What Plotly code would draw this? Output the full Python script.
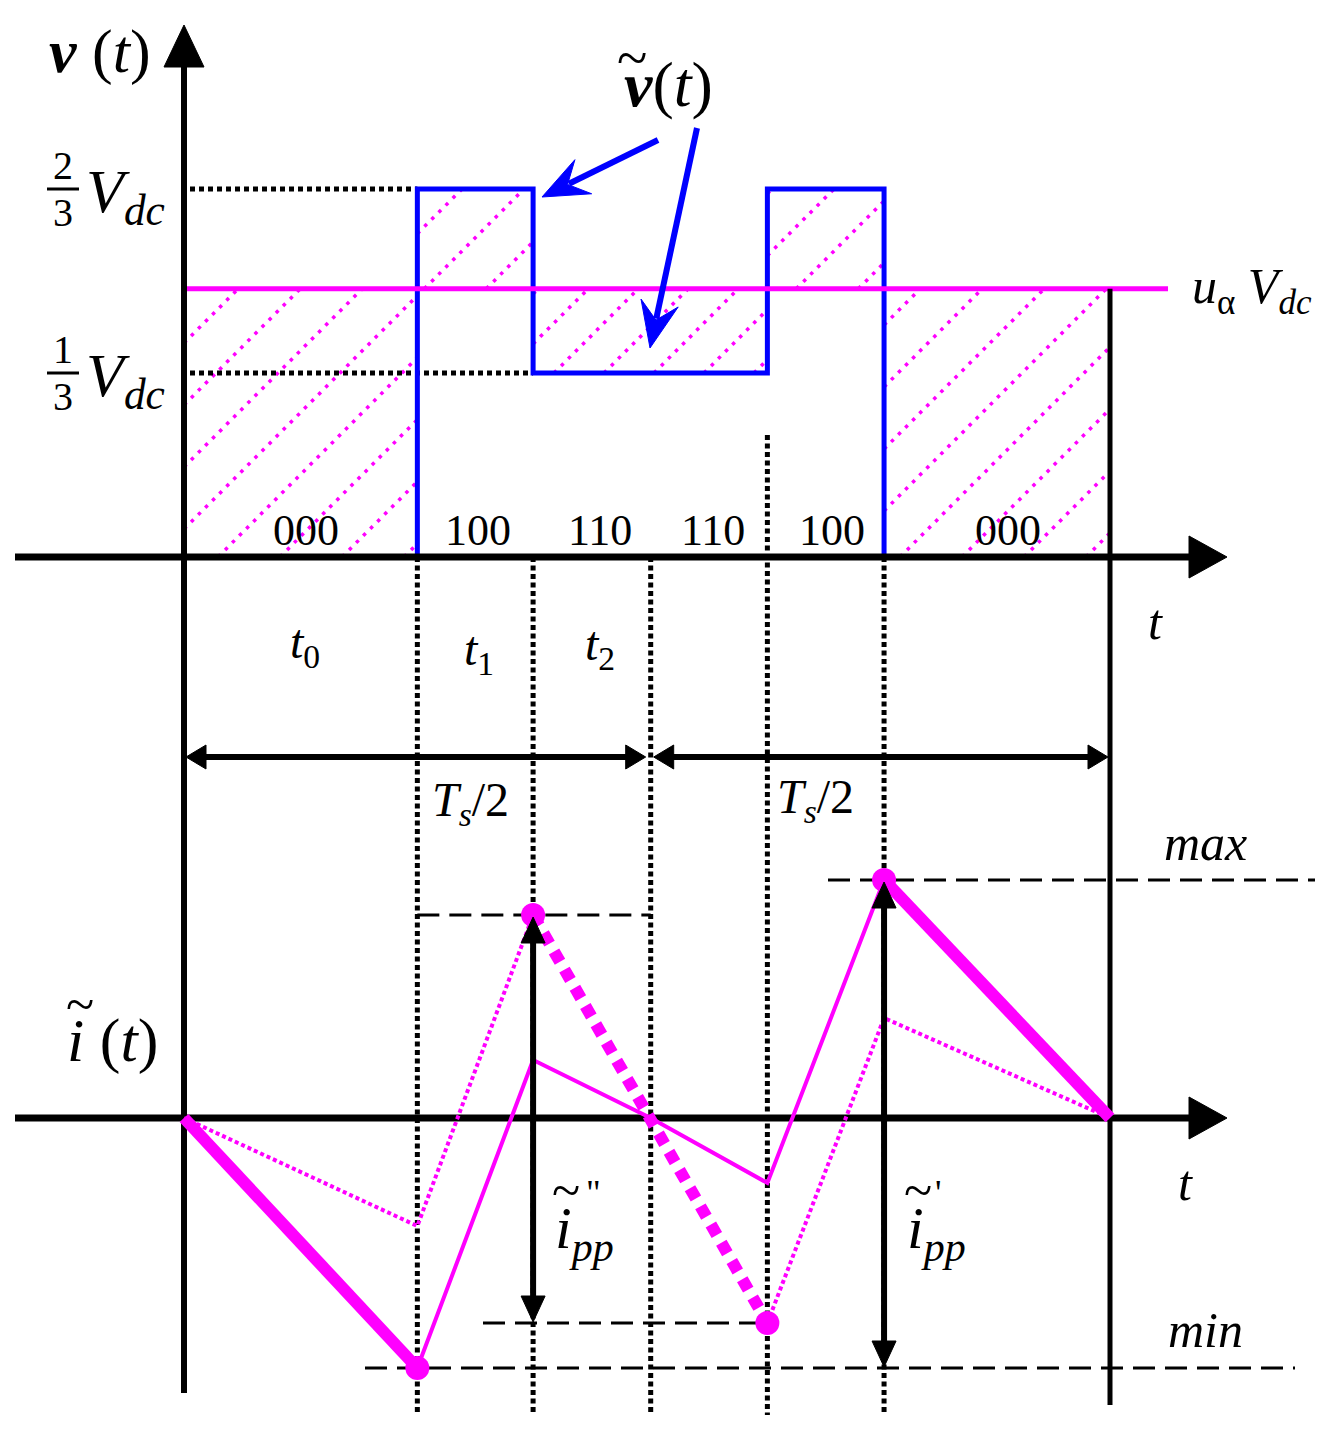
import math
import plotly.graph_objects as go

# ---------------- data ----------------
t_switch = [0.0, 0.252, 0.377, 0.504, 0.630, 0.756, 1.0]   # switching instants, units of Ts
states = ["000", "100", "110", "110", "100", "000"]         # active vector in each interval
v_level = {"000": 0.0, "100": 2 / 3, "110": 1 / 3}           # phase voltage, units of Vdc
u_alpha = 0.486                                              # reference u_alpha (Vdc)
interval_subs = ["0", "1", "2"]

# current ripple, arbitrary units
i_thin_t = [0.252, 0.377, 0.504, 0.630, 0.756]
i_thin_v = [-2.50, 0.58, 0.0, -0.65, 2.38]
i_thick_t = [0.0, 0.252, None, 0.756, 1.0]
i_thick_v = [0.0, -2.50, None, 2.38, 0.0]
i_dash_t = [0.377, 0.504, 0.630]
i_dash_v = [2.03, 0.0, -2.05]
i_dot_t = [0.0, 0.252, 0.377, None, 0.630, 0.756, 1.0]
i_dot_v = [0.0, -1.08, 2.03, None, -2.05, 1.00, 0.0]
peak_t = [0.252, 0.377, 0.630, 0.756]
peak_v = [-2.50, 2.03, -2.05, 2.38]
i_max, i_min = 2.38, -2.50          # global extremes
i_max2, i_min2 = 2.03, -2.05        # extremes of the other sequence

# ---------------- geometry (axis mapping) ----------------
W, H = 1330, 1434
X0, XS = 184.0, 926.0      # pixel of t=0, pixels per Ts
V0, VS = 557.0, 552.0      # pixel of v=0, pixels per Vdc
I0, IS = 1118.0, 100.0     # pixel of i=0, pixels per unit

def t_of(px): return (px - X0) / XS
def v_of(py): return (V0 - py) / VS
def i_of(py): return (I0 - py) / IS
def px_t(t): return X0 + XS * t
def py_v(v): return V0 - VS * v
def py_i(i): return I0 - IS * i

def P(px, py):  # paper coordinates from pixels (for text placement)
    return px / W, 1 - py / H

MAG = "#FF00FF"
BLUE = "#0000FF"
BLK = "#000000"

fig = go.Figure()

def line(ts, ys, axis="y", color=BLK, width=3, dash="solid"):
    fig.add_trace(go.Scatter(x=ts, y=ys, mode="lines", yaxis=axis, hoverinfo="skip",
                             line=dict(color=color, width=width, dash=dash), showlegend=False))

def poly(pts_px, axis="y", color=BLK):
    conv = v_of if axis == "y" else i_of
    xs = [t_of(p[0]) for p in pts_px] + [t_of(pts_px[0][0])]
    ys = [conv(p[1]) for p in pts_px] + [conv(pts_px[0][1])]
    fig.add_trace(go.Scatter(x=xs, y=ys, mode="lines", fill="toself", fillcolor=color, yaxis=axis,
                             hoverinfo="skip", line=dict(color=color, width=1), showlegend=False))

def head(tip_px, d, L, Wd, axis="y", color=BLK, notch=None):
    n = math.hypot(*d); ux, uy = d[0] / n, d[1] / n
    nx, ny = -uy, ux
    tx, ty = tip_px
    bx, by = tx - L * ux, ty - L * uy
    pts = [(tx, ty), (bx + Wd * nx, by + Wd * ny)]
    if notch is not None:
        pts.append((tx - notch * L * ux, ty - notch * L * uy))
    pts.append((bx - Wd * nx, by - Wd * ny))
    poly(pts, axis, color)

# ---------------- hatching between v(t) and u_alpha ----------------
hatch_spacing = {"000": 62.0, "100": 62.0, "110": 50.0}
ht, hv = [], []
for k, s in enumerate(states):
    lo, hi = sorted([v_level[s], u_alpha])
    xa, xb = px_t(t_switch[k]), px_t(t_switch[k + 1])
    ya, yb = py_v(hi), py_v(lo)
    sp = hatch_spacing[s]
    c = 527.0 - sp * 40
    while c < xb + yb + sp:
        x1 = max(xa, c - yb); x2 = min(xb, c - ya)
        if x2 - x1 > 2:
            ht += [t_of(x1), t_of(x2), None]
            hv += [v_of(c - x1), v_of(c - x2), None]
        c += sp
line(ht, hv, "y", MAG, 3.5, "3.5px,6.5px")

# ---------------- voltage plot ----------------
# dotted reference levels
line([t_of(190), t_switch[1]], [2 / 3, 2 / 3], "y", BLK, 5, "5px,4px")
line([t_of(190), t_switch[2]], [1 / 3, 1 / 3], "y", BLK, 5, "5px,4px")

# blue step v(t)
st, sv = [], []
for k, s in enumerate(states):
    st += [t_switch[k], t_switch[k + 1]]
    sv += [v_level[s], v_level[s]]
line(st[1:], sv[1:], "y", BLUE, 5)

# u_alpha reference
line([0, t_of(1168)], [u_alpha, u_alpha], "y", MAG, 5)

# vertical dotted lines through switching instants
for k in range(1, 6):
    top = v_of(435) if k == 4 else 0.0
    line([t_switch[k], t_switch[k]], [top, v_of(1415)], "y", BLK, 5, "5px,3.5px")

# axes
line([0, 0], [v_of(1393), v_of(64)], "y", BLK, 6)
head((X0, 25), (0, -1), 42, 20)
line([t_of(15), t_of(1192)], [0, 0], "y", BLK, 7)
head((1227, V0), (1, 0), 38, 21)
line([t_of(15), t_of(1192)], [0, 0], "y2", BLK, 7)
head((1227, I0), (1, 0), 38, 21, "y2")
line([1.0, 1.0], [u_alpha, v_of(1405)], "y", BLK, 5)

# Ts/2 double arrows
yTs = v_of(757)
line([t_of(200), t_of(632)], [yTs, yTs], "y", BLK, 6)
line([t_of(665), t_of(1095)], [yTs, yTs], "y", BLK, 6)
head((px_t(0) + 2, 757), (-1, 0), 20, 12)
head((px_t(t_switch[3]) - 5, 757), (1, 0), 20, 12)
head((px_t(t_switch[3]) + 3, 757), (-1, 0), 20, 12)
head((px_t(1.0) - 2, 757), (1, 0), 20, 12)

# blue pointer arrows for v~(t)
for (sx, sy), (ex, ey) in [((658, 140), (542, 197)), ((697, 128), (650, 348))]:
    dx, dy = ex - sx, ey - sy
    n = math.hypot(dx, dy)
    bx, by = ex - 30 * dx / n, ey - 30 * dy / n
    line([t_of(sx), t_of(bx)], [v_of(sy), v_of(by)], "y", BLUE, 6)
    head((ex, ey), (dx, dy), 46, 19, "y", BLUE, notch=0.62)

# ---------------- current plot ----------------
# dashed extreme levels
line([t_of(828), t_of(1315)], [i_max, i_max], "y2", BLK, 3, "22px,10px")
line([t_of(365), t_of(1295)], [i_min, i_min], "y2", BLK, 3, "22px,10px")
line([t_switch[1], t_switch[3]], [i_max2, i_max2], "y2", BLK, 3, "22px,10px")
line([t_of(483), t_switch[4]], [i_min2, i_min2], "y2", BLK, 3, "22px,10px")

# ripple curves
line(i_dot_t, i_dot_v, "y2", MAG, 4, "4px,3px")
line(i_thin_t, i_thin_v, "y2", MAG, 4)
line(i_thick_t, i_thick_v, "y2", MAG, 12)
line(i_dash_t, i_dash_v, "y2", MAG, 12, "12px,9px")
fig.add_trace(go.Scatter(x=peak_t, y=peak_v, mode="markers", yaxis="y2", hoverinfo="skip",
                         marker=dict(color=MAG, size=24, line=dict(width=0)), showlegend=False))

# peak-to-peak double arrows
for tt, a, b in [(t_switch[2], i_max2, i_min2), (t_switch[5], i_max, i_min)]:
    line([tt, tt], [a - 0.2, b + 0.2], "y2", BLK, 6)
    head((px_t(tt), py_i(a) + 2), (0, -1), 26, 12, "y2")
    head((px_t(tt), py_i(b) - 1), (0, 1), 26, 12, "y2")

# ---------------- text ----------------
FONT = "Liberation Serif"
def txt(s, px, py, size, xanchor="center", yanchor="middle", color=BLK):
    x, y = P(px, py)
    fig.add_annotation(text=s, x=x, y=y, xref="paper", yref="paper", showarrow=False,
                       xanchor=xanchor, yanchor=yanchor,
                       font=dict(family=FONT, size=size, color=color))

txt("<b><i>v</i></b> (<i>t</i>)", 100, 52, 62)
# fractions
for num, vy_ in [("2", 2 / 3), ("1", 1 / 3)]:
    yb = py_v(vy_)
    txt(num, 63, yb - 24, 40)
    txt("3", 63, yb + 24, 40)
    fig.add_shape(type="line", xref="paper", yref="paper",
                  x0=47 / W, x1=79 / W, y0=1 - yb / H, y1=1 - yb / H,
                  line=dict(color=BLK, width=3))
    txt("<i>V</i><sub><i>dc</i></sub>", 84, yb + 6, 62, xanchor="left")

txt("~", 632, 58, 56)
txt("<b><i>v</i></b>(<i>t</i>)", 668, 85, 64)
txt("<i>u</i><sub>α</sub> <i>V</i><sub><i>dc</i></sub>", 1190, 290, 50, xanchor="left")

label_shift = [5, 3, 8, 4, 6, 11]
for k, s in enumerate(states):
    tm = 0.5 * (t_switch[k] + t_switch[k + 1])
    txt(s, px_t(tm) + label_shift[k], 530, 44)

txt("<i>t</i>", 1155, 622, 50)
for k, sub in enumerate(interval_subs):
    tm = 0.5 * (t_switch[k] + t_switch[k + 1])
    txt("<i>t</i><sub>%s</sub>" % sub, px_t(tm) + [4, 4, 8][k], [645, 652, 647][k], 48)

txt("<i>T</i><sub><i>s</i></sub>/2", 470, 803, 48)
txt("<i>T</i><sub><i>s</i></sub>/2", 815, 800, 48)
txt("<i>max</i>", 1205, 843, 50)
txt("<i>min</i>", 1205, 1330, 50)

txt("~", 80, 1004, 52)
txt("<i>i</i> (<i>t</i>)", 112, 1040, 62)
txt("<i>t</i>", 1185, 1183, 50)

txt("~", 566, 1190, 52)
txt('"', 593, 1193, 36)
txt("<i>i</i><sub><i>pp</i></sub>", 553, 1232, 60, xanchor="left")
txt("~", 918, 1190, 52)
txt("'", 938, 1193, 36)
txt("<i>i</i><sub><i>pp</i></sub>", 905, 1232, 60, xanchor="left")

fig.update_layout(
    width=W, height=H, margin=dict(l=0, r=0, t=0, b=0),
    paper_bgcolor="white", plot_bgcolor="white", showlegend=False,
    xaxis=dict(range=[t_of(0), t_of(W)], visible=False, fixedrange=True),
    yaxis=dict(range=[v_of(H), v_of(0)], visible=False, fixedrange=True),
    yaxis2=dict(range=[i_of(H), i_of(0)], visible=False, overlaying="y", fixedrange=True),
)

fig.write_html("out.html", config={"displayModeBar": False},
               post_script="document.body.style.margin='0';")
